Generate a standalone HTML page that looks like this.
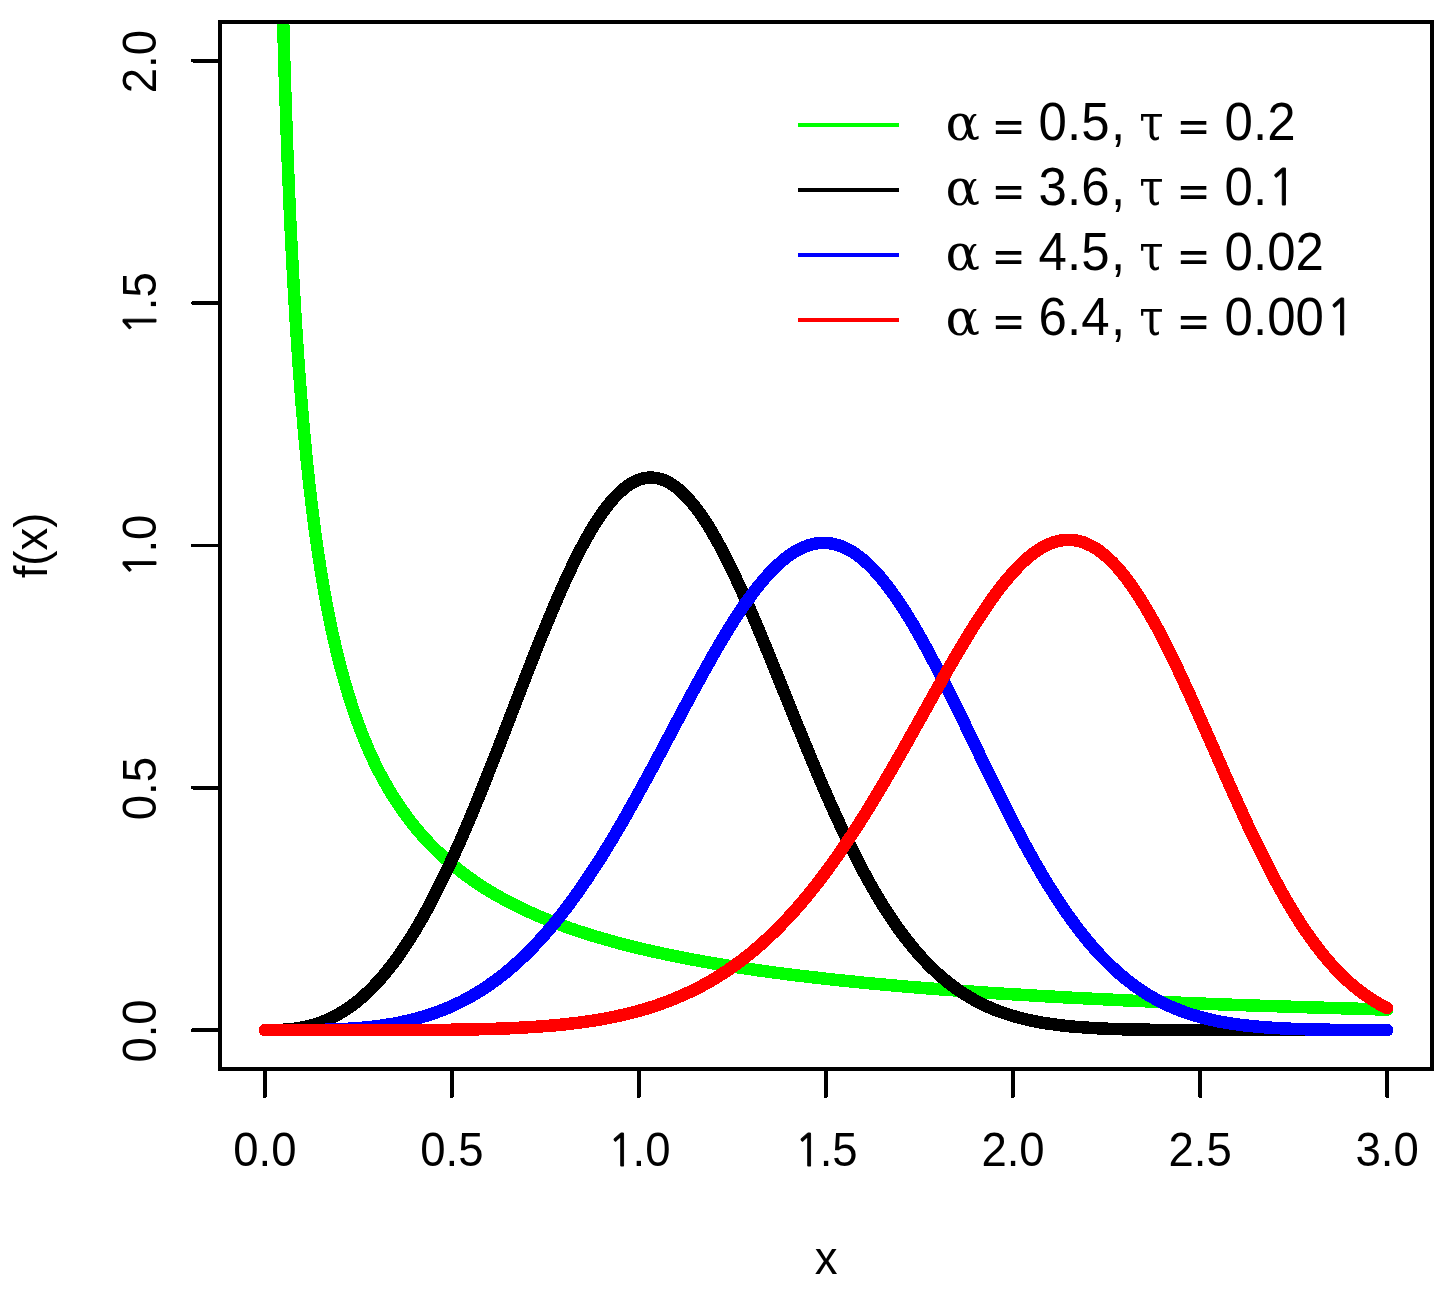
<!DOCTYPE html>
<html><head><meta charset="utf-8"><title>f(x)</title>
<style>
html,body{margin:0;padding:0;background:#fff;}
svg{display:block;}
text{font-family:"Liberation Sans",sans-serif;fill:#000;}
.ax{font-size:45.5px;}
.lg text{font-size:51px;}
.lg text.sy{font-family:"DejaVu Serif","Liberation Serif",serif;}
tspan.one{font-family:"NanumGothic","Liberation Sans",sans-serif;stroke:#000;stroke-width:0.9px;}
.lg text.eq{font-family:"DejaVu Sans","Liberation Sans",sans-serif;font-size:47px;}
</style></head><body>
<svg width="1451" height="1290" viewBox="0 0 1451 1290">
<rect x="0" y="0" width="1451" height="1290" fill="#fff"/>
<defs><clipPath id="c"><rect x="220" y="22" width="1212" height="1047"/></clipPath></defs>

<g clip-path="url(#c)" fill="none" stroke-width="12.5" stroke-linecap="round" stroke-linejoin="round" shape-rendering="crispEdges">
<path d="M278.9 -164.4 L281.7 -32.5 L284.5 69.3 L287.3 150.8 L290.1 218.0 L293.0 274.4 L295.8 322.7 L298.6 364.5 L301.4 401.2 L304.2 433.7 L307.0 462.8 L309.8 488.9 L312.6 512.5 L315.4 534.1 L318.2 553.8 L321.0 571.9 L323.8 588.7 L326.6 604.1 L329.4 618.5 L332.2 632.0 L335.0 644.5 L337.8 656.3 L340.6 667.3 L343.5 677.7 L346.3 687.5 L349.1 696.8 L351.9 705.6 L354.7 713.9 L357.5 721.8 L360.3 729.3 L363.1 736.5 L365.9 743.3 L368.7 749.9 L371.5 756.1 L374.3 762.1 L377.1 767.8 L379.9 773.3 L382.7 778.6 L385.5 783.6 L388.3 788.5 L391.1 793.2 L394.0 797.7 L396.8 802.1 L399.6 806.3 L402.4 810.3 L405.2 814.2 L408.0 818.0 L410.8 821.7 L413.6 825.2 L416.4 828.7 L419.2 832.0 L422.0 835.2 L424.8 838.3 L427.6 841.4 L430.4 844.3 L433.2 847.2 L436.0 849.9 L438.8 852.6 L441.6 855.3 L444.5 857.8 L447.3 860.3 L450.1 862.7 L452.9 865.1 L455.7 867.4 L458.5 869.6 L461.3 871.8 L464.1 873.9 L466.9 876.0 L469.7 878.0 L472.5 880.0 L475.3 882.0 L478.1 883.9 L480.9 885.7 L483.7 887.5 L486.5 889.3 L489.3 891.0 L492.1 892.7 L495.0 894.3 L497.8 895.9 L500.6 897.5 L503.4 899.1 L506.2 900.6 L509.0 902.1 L511.8 903.5 L514.6 905.0 L517.4 906.3 L520.2 907.7 L523.0 909.1 L525.8 910.4 L528.6 911.7 L531.4 912.9 L534.2 914.2 L537.0 915.4 L539.8 916.6 L542.6 917.8 L545.5 918.9 L548.3 920.1 L551.1 921.2 L553.9 922.3 L556.7 923.3 L559.5 924.4 L562.3 925.4 L565.1 926.5 L567.9 927.5 L570.7 928.5 L573.5 929.4 L576.3 930.4 L579.1 931.3 L581.9 932.2 L584.7 933.2 L587.5 934.0 L590.3 934.9 L593.1 935.8 L596.0 936.6 L598.8 937.5 L601.6 938.3 L604.4 939.1 L607.2 939.9 L610.0 940.7 L612.8 941.5 L615.6 942.3 L618.4 943.0 L621.2 943.8 L624.0 944.5 L626.8 945.2 L629.6 945.9 L632.4 946.6 L635.2 947.3 L638.0 948.0 L640.8 948.7 L643.6 949.3 L646.5 950.0 L649.3 950.6 L652.1 951.3 L654.9 951.9 L657.7 952.5 L660.5 953.1 L663.3 953.7 L666.1 954.3 L668.9 954.9 L671.7 955.5 L674.5 956.1 L677.3 956.6 L680.1 957.2 L682.9 957.7 L685.7 958.3 L688.5 958.8 L691.3 959.4 L694.1 959.9 L697.0 960.4 L699.8 960.9 L702.6 961.4 L705.4 961.9 L708.2 962.4 L711.0 962.9 L713.8 963.4 L716.6 963.8 L719.4 964.3 L722.2 964.8 L725.0 965.2 L727.8 965.7 L730.6 966.1 L733.4 966.6 L736.2 967.0 L739.0 967.5 L741.8 967.9 L744.6 968.3 L747.5 968.7 L750.3 969.1 L753.1 969.5 L755.9 970.0 L758.7 970.4 L761.5 970.7 L764.3 971.1 L767.1 971.5 L769.9 971.9 L772.7 972.3 L775.5 972.7 L778.3 973.0 L781.1 973.4 L783.9 973.8 L786.7 974.1 L789.5 974.5 L792.3 974.8 L795.1 975.2 L797.9 975.5 L800.8 975.9 L803.6 976.2 L806.4 976.5 L809.2 976.9 L812.0 977.2 L814.8 977.5 L817.6 977.8 L820.4 978.2 L823.2 978.5 L826.0 978.8 L828.8 979.1 L831.6 979.4 L834.4 979.7 L837.2 980.0 L840.0 980.3 L842.8 980.6 L845.6 980.9 L848.4 981.2 L851.3 981.5 L854.1 981.7 L856.9 982.0 L859.7 982.3 L862.5 982.6 L865.3 982.9 L868.1 983.1 L870.9 983.4 L873.7 983.7 L876.5 983.9 L879.3 984.2 L882.1 984.4 L884.9 984.7 L887.7 984.9 L890.5 985.2 L893.3 985.4 L896.1 985.7 L898.9 985.9 L901.8 986.2 L904.6 986.4 L907.4 986.7 L910.2 986.9 L913.0 987.1 L915.8 987.4 L918.6 987.6 L921.4 987.8 L924.2 988.0 L927.0 988.3 L929.8 988.5 L932.6 988.7 L935.4 988.9 L938.2 989.1 L941.0 989.4 L943.8 989.6 L946.6 989.8 L949.4 990.0 L952.3 990.2 L955.1 990.4 L957.9 990.6 L960.7 990.8 L963.5 991.0 L966.3 991.2 L969.1 991.4 L971.9 991.6 L974.7 991.8 L977.5 992.0 L980.3 992.2 L983.1 992.4 L985.9 992.6 L988.7 992.8 L991.5 992.9 L994.3 993.1 L997.1 993.3 L999.9 993.5 L1002.8 993.7 L1005.6 993.9 L1008.4 994.0 L1011.2 994.2 L1014.0 994.4 L1016.8 994.6 L1019.6 994.7 L1022.4 994.9 L1025.2 995.1 L1028.0 995.2 L1030.8 995.4 L1033.6 995.6 L1036.4 995.7 L1039.2 995.9 L1042.0 996.1 L1044.8 996.2 L1047.6 996.4 L1050.4 996.5 L1053.3 996.7 L1056.1 996.8 L1058.9 997.0 L1061.7 997.2 L1064.5 997.3 L1067.3 997.5 L1070.1 997.6 L1072.9 997.8 L1075.7 997.9 L1078.5 998.1 L1081.3 998.2 L1084.1 998.3 L1086.9 998.5 L1089.7 998.6 L1092.5 998.8 L1095.3 998.9 L1098.1 999.1 L1100.9 999.2 L1103.8 999.3 L1106.6 999.5 L1109.4 999.6 L1112.2 999.7 L1115.0 999.9 L1117.8 1000.0 L1120.6 1000.1 L1123.4 1000.3 L1126.2 1000.4 L1129.0 1000.5 L1131.8 1000.7 L1134.6 1000.8 L1137.4 1000.9 L1140.2 1001.0 L1143.0 1001.2 L1145.8 1001.3 L1148.6 1001.4 L1151.4 1001.5 L1154.3 1001.7 L1157.1 1001.8 L1159.9 1001.9 L1162.7 1002.0 L1165.5 1002.1 L1168.3 1002.3 L1171.1 1002.4 L1173.9 1002.5 L1176.7 1002.6 L1179.5 1002.7 L1182.3 1002.8 L1185.1 1003.0 L1187.9 1003.1 L1190.7 1003.2 L1193.5 1003.3 L1196.3 1003.4 L1199.1 1003.5 L1201.9 1003.6 L1204.8 1003.7 L1207.6 1003.8 L1210.4 1003.9 L1213.2 1004.1 L1216.0 1004.2 L1218.8 1004.3 L1221.6 1004.4 L1224.4 1004.5 L1227.2 1004.6 L1230.0 1004.7 L1232.8 1004.8 L1235.6 1004.9 L1238.4 1005.0 L1241.2 1005.1 L1244.0 1005.2 L1246.8 1005.3 L1249.6 1005.4 L1252.4 1005.5 L1255.3 1005.6 L1258.1 1005.7 L1260.9 1005.8 L1263.7 1005.9 L1266.5 1006.0 L1269.3 1006.1 L1272.1 1006.1 L1274.9 1006.2 L1277.7 1006.3 L1280.5 1006.4 L1283.3 1006.5 L1286.1 1006.6 L1288.9 1006.7 L1291.7 1006.8 L1294.5 1006.9 L1297.3 1007.0 L1300.1 1007.1 L1302.9 1007.1 L1305.7 1007.2 L1308.6 1007.3 L1311.4 1007.4 L1314.2 1007.5 L1317.0 1007.6 L1319.8 1007.7 L1322.6 1007.7 L1325.4 1007.8 L1328.2 1007.9 L1331.0 1008.0 L1333.8 1008.1 L1336.6 1008.2 L1339.4 1008.2 L1342.2 1008.3 L1345.0 1008.4 L1347.8 1008.5 L1350.6 1008.6 L1353.4 1008.6 L1356.2 1008.7 L1359.1 1008.8 L1361.9 1008.9 L1364.7 1009.0 L1367.5 1009.0 L1370.3 1009.1 L1373.1 1009.2 L1375.9 1009.3 L1378.7 1009.3 L1381.5 1009.4 L1384.3 1009.5 L1387.1 1009.6" stroke="#00ff00"/>
<path d="M264.9 1030.2 L267.7 1030.2 L270.5 1030.2 L273.3 1030.1 L276.1 1030.1 L278.9 1030.0 L281.7 1029.9 L284.5 1029.7 L287.3 1029.5 L290.1 1029.2 L293.0 1028.9 L295.8 1028.5 L298.6 1028.1 L301.4 1027.6 L304.2 1027.1 L307.0 1026.4 L309.8 1025.8 L312.6 1025.0 L315.4 1024.2 L318.2 1023.3 L321.0 1022.3 L323.8 1021.2 L326.6 1020.1 L329.4 1018.8 L332.2 1017.5 L335.0 1016.1 L337.8 1014.6 L340.6 1012.9 L343.5 1011.2 L346.3 1009.4 L349.1 1007.5 L351.9 1005.5 L354.7 1003.4 L357.5 1001.2 L360.3 998.9 L363.1 996.4 L365.9 993.9 L368.7 991.2 L371.5 988.5 L374.3 985.6 L377.1 982.6 L379.9 979.5 L382.7 976.3 L385.5 972.9 L388.3 969.5 L391.1 965.9 L394.0 962.2 L396.8 958.4 L399.6 954.4 L402.4 950.4 L405.2 946.2 L408.0 941.9 L410.8 937.5 L413.6 932.9 L416.4 928.3 L419.2 923.5 L422.0 918.6 L424.8 913.6 L427.6 908.5 L430.4 903.2 L433.2 897.9 L436.0 892.4 L438.8 886.9 L441.6 881.2 L444.5 875.4 L447.3 869.5 L450.1 863.5 L452.9 857.4 L455.7 851.2 L458.5 845.0 L461.3 838.6 L464.1 832.1 L466.9 825.6 L469.7 819.0 L472.5 812.3 L475.3 805.5 L478.1 798.7 L480.9 791.8 L483.7 784.8 L486.5 777.8 L489.3 770.7 L492.1 763.6 L495.0 756.4 L497.8 749.2 L500.6 742.0 L503.4 734.8 L506.2 727.5 L509.0 720.2 L511.8 712.9 L514.6 705.6 L517.4 698.3 L520.2 691.0 L523.0 683.8 L525.8 676.5 L528.6 669.3 L531.4 662.1 L534.2 655.0 L537.0 647.9 L539.8 640.9 L542.6 633.9 L545.5 627.0 L548.3 620.2 L551.1 613.4 L553.9 606.8 L556.7 600.2 L559.5 593.8 L562.3 587.4 L565.1 581.2 L567.9 575.1 L570.7 569.2 L573.5 563.3 L576.3 557.6 L579.1 552.1 L581.9 546.7 L584.7 541.5 L587.5 536.5 L590.3 531.6 L593.1 526.9 L596.0 522.4 L598.8 518.1 L601.6 513.9 L604.4 510.0 L607.2 506.3 L610.0 502.8 L612.8 499.5 L615.6 496.4 L618.4 493.6 L621.2 491.0 L624.0 488.6 L626.8 486.4 L629.6 484.4 L632.4 482.7 L635.2 481.3 L638.0 480.1 L640.8 479.1 L643.6 478.3 L646.5 477.8 L649.3 477.6 L652.1 477.6 L654.9 477.8 L657.7 478.3 L660.5 479.0 L663.3 479.9 L666.1 481.1 L668.9 482.5 L671.7 484.2 L674.5 486.1 L677.3 488.2 L680.1 490.6 L682.9 493.2 L685.7 496.0 L688.5 499.0 L691.3 502.2 L694.1 505.6 L697.0 509.3 L699.8 513.1 L702.6 517.2 L705.4 521.4 L708.2 525.8 L711.0 530.4 L713.8 535.2 L716.6 540.1 L719.4 545.2 L722.2 550.4 L725.0 555.8 L727.8 561.4 L730.6 567.0 L733.4 572.8 L736.2 578.8 L739.0 584.8 L741.8 591.0 L744.6 597.2 L747.5 603.6 L750.3 610.0 L753.1 616.5 L755.9 623.1 L758.7 629.8 L761.5 636.5 L764.3 643.3 L767.1 650.1 L769.9 657.0 L772.7 663.9 L775.5 670.8 L778.3 677.7 L781.1 684.7 L783.9 691.7 L786.7 698.6 L789.5 705.6 L792.3 712.6 L795.1 719.5 L797.9 726.4 L800.8 733.3 L803.6 740.2 L806.4 747.0 L809.2 753.8 L812.0 760.6 L814.8 767.3 L817.6 773.9 L820.4 780.5 L823.2 787.0 L826.0 793.5 L828.8 799.8 L831.6 806.1 L834.4 812.4 L837.2 818.5 L840.0 824.6 L842.8 830.6 L845.6 836.4 L848.4 842.2 L851.3 847.9 L854.1 853.5 L856.9 859.1 L859.7 864.5 L862.5 869.8 L865.3 875.0 L868.1 880.1 L870.9 885.1 L873.7 890.0 L876.5 894.8 L879.3 899.5 L882.1 904.1 L884.9 908.5 L887.7 912.9 L890.5 917.2 L893.3 921.3 L896.1 925.4 L898.9 929.3 L901.8 933.2 L904.6 936.9 L907.4 940.5 L910.2 944.1 L913.0 947.5 L915.8 950.8 L918.6 954.1 L921.4 957.2 L924.2 960.2 L927.0 963.2 L929.8 966.0 L932.6 968.8 L935.4 971.4 L938.2 974.0 L941.0 976.5 L943.8 978.9 L946.6 981.2 L949.4 983.5 L952.3 985.6 L955.1 987.7 L957.9 989.7 L960.7 991.6 L963.5 993.5 L966.3 995.2 L969.1 996.9 L971.9 998.6 L974.7 1000.2 L977.5 1001.7 L980.3 1003.1 L983.1 1004.5 L985.9 1005.8 L988.7 1007.1 L991.5 1008.3 L994.3 1009.5 L997.1 1010.6 L999.9 1011.6 L1002.8 1012.6 L1005.6 1013.6 L1008.4 1014.5 L1011.2 1015.4 L1014.0 1016.2 L1016.8 1017.0 L1019.6 1017.8 L1022.4 1018.5 L1025.2 1019.2 L1028.0 1019.8 L1030.8 1020.5 L1033.6 1021.0 L1036.4 1021.6 L1039.2 1022.1 L1042.0 1022.6 L1044.8 1023.1 L1047.6 1023.5 L1050.4 1023.9 L1053.3 1024.3 L1056.1 1024.7 L1058.9 1025.1 L1061.7 1025.4 L1064.5 1025.7 L1067.3 1026.0 L1070.1 1026.3 L1072.9 1026.6 L1075.7 1026.8 L1078.5 1027.0 L1081.3 1027.2 L1084.1 1027.5 L1086.9 1027.6 L1089.7 1027.8 L1092.5 1028.0 L1095.3 1028.1 L1098.1 1028.3 L1100.9 1028.4 L1103.8 1028.6 L1106.6 1028.7 L1109.4 1028.8 L1112.2 1028.9 L1115.0 1029.0 L1117.8 1029.1 L1120.6 1029.2 L1123.4 1029.3 L1126.2 1029.3 L1129.0 1029.4 L1131.8 1029.5 L1134.6 1029.5 L1137.4 1029.6 L1140.2 1029.6 L1143.0 1029.7 L1145.8 1029.7 L1148.6 1029.7 L1151.4 1029.8 L1154.3 1029.8 L1157.1 1029.9 L1159.9 1029.9 L1162.7 1029.9 L1165.5 1029.9 L1168.3 1030.0 L1171.1 1030.0 L1173.9 1030.0 L1176.7 1030.0 L1179.5 1030.0 L1182.3 1030.0 L1185.1 1030.1 L1187.9 1030.1 L1190.7 1030.1 L1193.5 1030.1 L1196.3 1030.1 L1199.1 1030.1 L1201.9 1030.1 L1204.8 1030.1 L1207.6 1030.1 L1210.4 1030.1 L1213.2 1030.1 L1216.0 1030.2 L1218.8 1030.2 L1221.6 1030.2 L1224.4 1030.2 L1227.2 1030.2 L1230.0 1030.2 L1232.8 1030.2 L1235.6 1030.2 L1238.4 1030.2 L1241.2 1030.2 L1244.0 1030.2 L1246.8 1030.2 L1249.6 1030.2 L1252.4 1030.2 L1255.3 1030.2 L1258.1 1030.2 L1260.9 1030.2 L1263.7 1030.2 L1266.5 1030.2 L1269.3 1030.2 L1272.1 1030.2 L1274.9 1030.2 L1277.7 1030.2 L1280.5 1030.2 L1283.3 1030.2 L1286.1 1030.2 L1288.9 1030.2 L1291.7 1030.2 L1294.5 1030.2 L1297.3 1030.2 L1300.1 1030.2 L1302.9 1030.2 L1305.7 1030.2 L1308.6 1030.2 L1311.4 1030.2 L1314.2 1030.2 L1317.0 1030.2 L1319.8 1030.2 L1322.6 1030.2 L1325.4 1030.2 L1328.2 1030.2 L1331.0 1030.2 L1333.8 1030.2 L1336.6 1030.2 L1339.4 1030.2 L1342.2 1030.2 L1345.0 1030.2 L1347.8 1030.2 L1350.6 1030.2 L1353.4 1030.2 L1356.2 1030.2 L1359.1 1030.2 L1361.9 1030.2 L1364.7 1030.2 L1367.5 1030.2 L1370.3 1030.2 L1373.1 1030.2 L1375.9 1030.2 L1378.7 1030.2 L1381.5 1030.2 L1384.3 1030.2 L1387.1 1030.2" stroke="#000000"/>
<path d="M264.9 1030.2 L267.7 1030.2 L270.5 1030.2 L273.3 1030.2 L276.1 1030.2 L278.9 1030.2 L281.7 1030.2 L284.5 1030.2 L287.3 1030.2 L290.1 1030.2 L293.0 1030.2 L295.8 1030.2 L298.6 1030.1 L301.4 1030.1 L304.2 1030.1 L307.0 1030.1 L309.8 1030.0 L312.6 1030.0 L315.4 1030.0 L318.2 1029.9 L321.0 1029.8 L323.8 1029.8 L326.6 1029.7 L329.4 1029.6 L332.2 1029.5 L335.0 1029.4 L337.8 1029.3 L340.6 1029.2 L343.5 1029.0 L346.3 1028.9 L349.1 1028.7 L351.9 1028.5 L354.7 1028.3 L357.5 1028.1 L360.3 1027.9 L363.1 1027.7 L365.9 1027.4 L368.7 1027.1 L371.5 1026.8 L374.3 1026.5 L377.1 1026.1 L379.9 1025.8 L382.7 1025.4 L385.5 1025.0 L388.3 1024.5 L391.1 1024.1 L394.0 1023.6 L396.8 1023.1 L399.6 1022.5 L402.4 1021.9 L405.2 1021.3 L408.0 1020.7 L410.8 1020.0 L413.6 1019.3 L416.4 1018.6 L419.2 1017.8 L422.0 1017.0 L424.8 1016.2 L427.6 1015.3 L430.4 1014.4 L433.2 1013.5 L436.0 1012.5 L438.8 1011.4 L441.6 1010.4 L444.5 1009.3 L447.3 1008.1 L450.1 1006.9 L452.9 1005.6 L455.7 1004.3 L458.5 1003.0 L461.3 1001.6 L464.1 1000.2 L466.9 998.7 L469.7 997.1 L472.5 995.6 L475.3 993.9 L478.1 992.2 L480.9 990.5 L483.7 988.7 L486.5 986.8 L489.3 984.9 L492.1 982.9 L495.0 980.9 L497.8 978.8 L500.6 976.6 L503.4 974.4 L506.2 972.2 L509.0 969.8 L511.8 967.4 L514.6 965.0 L517.4 962.5 L520.2 959.9 L523.0 957.2 L525.8 954.5 L528.6 951.7 L531.4 948.9 L534.2 946.0 L537.0 943.0 L539.8 940.0 L542.6 936.9 L545.5 933.7 L548.3 930.5 L551.1 927.2 L553.9 923.8 L556.7 920.4 L559.5 916.9 L562.3 913.3 L565.1 909.7 L567.9 906.0 L570.7 902.2 L573.5 898.4 L576.3 894.5 L579.1 890.5 L581.9 886.5 L584.7 882.4 L587.5 878.3 L590.3 874.0 L593.1 869.8 L596.0 865.4 L598.8 861.1 L601.6 856.6 L604.4 852.1 L607.2 847.5 L610.0 842.9 L612.8 838.3 L615.6 833.5 L618.4 828.8 L621.2 824.0 L624.0 819.1 L626.8 814.2 L629.6 809.2 L632.4 804.3 L635.2 799.2 L638.0 794.2 L640.8 789.1 L643.6 783.9 L646.5 778.8 L649.3 773.6 L652.1 768.4 L654.9 763.2 L657.7 757.9 L660.5 752.7 L663.3 747.4 L666.1 742.1 L668.9 736.8 L671.7 731.5 L674.5 726.2 L677.3 720.9 L680.1 715.7 L682.9 710.4 L685.7 705.1 L688.5 699.9 L691.3 694.7 L694.1 689.5 L697.0 684.3 L699.8 679.2 L702.6 674.1 L705.4 669.0 L708.2 664.0 L711.0 659.0 L713.8 654.1 L716.6 649.2 L719.4 644.4 L722.2 639.7 L725.0 635.0 L727.8 630.4 L730.6 625.9 L733.4 621.4 L736.2 617.1 L739.0 612.8 L741.8 608.6 L744.6 604.5 L747.5 600.5 L750.3 596.7 L753.1 592.9 L755.9 589.2 L758.7 585.7 L761.5 582.3 L764.3 578.9 L767.1 575.8 L769.9 572.7 L772.7 569.8 L775.5 567.0 L778.3 564.4 L781.1 561.9 L783.9 559.5 L786.7 557.3 L789.5 555.2 L792.3 553.3 L795.1 551.6 L797.9 550.0 L800.8 548.5 L803.6 547.2 L806.4 546.1 L809.2 545.2 L812.0 544.4 L814.8 543.8 L817.6 543.3 L820.4 543.0 L823.2 542.9 L826.0 543.0 L828.8 543.2 L831.6 543.6 L834.4 544.2 L837.2 544.9 L840.0 545.8 L842.8 546.9 L845.6 548.2 L848.4 549.6 L851.3 551.2 L854.1 553.0 L856.9 554.9 L859.7 557.0 L862.5 559.2 L865.3 561.6 L868.1 564.2 L870.9 566.9 L873.7 569.8 L876.5 572.8 L879.3 576.0 L882.1 579.3 L884.9 582.8 L887.7 586.4 L890.5 590.1 L893.3 594.0 L896.1 598.0 L898.9 602.1 L901.8 606.4 L904.6 610.7 L907.4 615.2 L910.2 619.8 L913.0 624.4 L915.8 629.2 L918.6 634.1 L921.4 639.1 L924.2 644.1 L927.0 649.3 L929.8 654.5 L932.6 659.8 L935.4 665.1 L938.2 670.5 L941.0 676.0 L943.8 681.5 L946.6 687.1 L949.4 692.7 L952.3 698.4 L955.1 704.1 L957.9 709.8 L960.7 715.6 L963.5 721.3 L966.3 727.1 L969.1 732.9 L971.9 738.7 L974.7 744.5 L977.5 750.3 L980.3 756.1 L983.1 761.9 L985.9 767.7 L988.7 773.4 L991.5 779.2 L994.3 784.9 L997.1 790.5 L999.9 796.2 L1002.8 801.8 L1005.6 807.3 L1008.4 812.9 L1011.2 818.3 L1014.0 823.7 L1016.8 829.1 L1019.6 834.4 L1022.4 839.7 L1025.2 844.9 L1028.0 850.0 L1030.8 855.0 L1033.6 860.0 L1036.4 865.0 L1039.2 869.8 L1042.0 874.6 L1044.8 879.3 L1047.6 883.9 L1050.4 888.4 L1053.3 892.9 L1056.1 897.3 L1058.9 901.6 L1061.7 905.8 L1064.5 909.9 L1067.3 914.0 L1070.1 917.9 L1072.9 921.8 L1075.7 925.6 L1078.5 929.3 L1081.3 932.9 L1084.1 936.4 L1086.9 939.9 L1089.7 943.2 L1092.5 946.5 L1095.3 949.7 L1098.1 952.8 L1100.9 955.8 L1103.8 958.8 L1106.6 961.6 L1109.4 964.4 L1112.2 967.1 L1115.0 969.7 L1117.8 972.2 L1120.6 974.7 L1123.4 977.0 L1126.2 979.3 L1129.0 981.5 L1131.8 983.7 L1134.6 985.8 L1137.4 987.8 L1140.2 989.7 L1143.0 991.6 L1145.8 993.4 L1148.6 995.1 L1151.4 996.8 L1154.3 998.4 L1157.1 999.9 L1159.9 1001.4 L1162.7 1002.8 L1165.5 1004.2 L1168.3 1005.5 L1171.1 1006.8 L1173.9 1008.0 L1176.7 1009.1 L1179.5 1010.3 L1182.3 1011.3 L1185.1 1012.3 L1187.9 1013.3 L1190.7 1014.2 L1193.5 1015.1 L1196.3 1015.9 L1199.1 1016.7 L1201.9 1017.5 L1204.8 1018.2 L1207.6 1018.9 L1210.4 1019.6 L1213.2 1020.2 L1216.0 1020.8 L1218.8 1021.4 L1221.6 1021.9 L1224.4 1022.4 L1227.2 1022.9 L1230.0 1023.4 L1232.8 1023.8 L1235.6 1024.2 L1238.4 1024.6 L1241.2 1024.9 L1244.0 1025.3 L1246.8 1025.6 L1249.6 1025.9 L1252.4 1026.2 L1255.3 1026.5 L1258.1 1026.7 L1260.9 1027.0 L1263.7 1027.2 L1266.5 1027.4 L1269.3 1027.6 L1272.1 1027.8 L1274.9 1028.0 L1277.7 1028.1 L1280.5 1028.3 L1283.3 1028.4 L1286.1 1028.5 L1288.9 1028.7 L1291.7 1028.8 L1294.5 1028.9 L1297.3 1029.0 L1300.1 1029.1 L1302.9 1029.2 L1305.7 1029.3 L1308.6 1029.3 L1311.4 1029.4 L1314.2 1029.5 L1317.0 1029.5 L1319.8 1029.6 L1322.6 1029.6 L1325.4 1029.7 L1328.2 1029.7 L1331.0 1029.8 L1333.8 1029.8 L1336.6 1029.8 L1339.4 1029.9 L1342.2 1029.9 L1345.0 1029.9 L1347.8 1029.9 L1350.6 1030.0 L1353.4 1030.0 L1356.2 1030.0 L1359.1 1030.0 L1361.9 1030.0 L1364.7 1030.1 L1367.5 1030.1 L1370.3 1030.1 L1373.1 1030.1 L1375.9 1030.1 L1378.7 1030.1 L1381.5 1030.1 L1384.3 1030.1 L1387.1 1030.1" stroke="#0000ff"/>
<path d="M264.9 1030.2 L267.7 1030.2 L270.5 1030.2 L273.3 1030.2 L276.1 1030.2 L278.9 1030.2 L281.7 1030.2 L284.5 1030.2 L287.3 1030.2 L290.1 1030.2 L293.0 1030.2 L295.8 1030.2 L298.6 1030.2 L301.4 1030.2 L304.2 1030.2 L307.0 1030.2 L309.8 1030.2 L312.6 1030.2 L315.4 1030.2 L318.2 1030.2 L321.0 1030.2 L323.8 1030.2 L326.6 1030.2 L329.4 1030.2 L332.2 1030.2 L335.0 1030.2 L337.8 1030.2 L340.6 1030.2 L343.5 1030.2 L346.3 1030.2 L349.1 1030.2 L351.9 1030.2 L354.7 1030.2 L357.5 1030.2 L360.3 1030.2 L363.1 1030.2 L365.9 1030.2 L368.7 1030.2 L371.5 1030.2 L374.3 1030.2 L377.1 1030.2 L379.9 1030.2 L382.7 1030.2 L385.5 1030.2 L388.3 1030.2 L391.1 1030.1 L394.0 1030.1 L396.8 1030.1 L399.6 1030.1 L402.4 1030.1 L405.2 1030.1 L408.0 1030.1 L410.8 1030.1 L413.6 1030.1 L416.4 1030.1 L419.2 1030.0 L422.0 1030.0 L424.8 1030.0 L427.6 1030.0 L430.4 1030.0 L433.2 1029.9 L436.0 1029.9 L438.8 1029.9 L441.6 1029.9 L444.5 1029.8 L447.3 1029.8 L450.1 1029.8 L452.9 1029.7 L455.7 1029.7 L458.5 1029.6 L461.3 1029.6 L464.1 1029.5 L466.9 1029.5 L469.7 1029.4 L472.5 1029.4 L475.3 1029.3 L478.1 1029.3 L480.9 1029.2 L483.7 1029.1 L486.5 1029.0 L489.3 1029.0 L492.1 1028.9 L495.0 1028.8 L497.8 1028.7 L500.6 1028.6 L503.4 1028.5 L506.2 1028.4 L509.0 1028.3 L511.8 1028.1 L514.6 1028.0 L517.4 1027.9 L520.2 1027.7 L523.0 1027.6 L525.8 1027.4 L528.6 1027.2 L531.4 1027.1 L534.2 1026.9 L537.0 1026.7 L539.8 1026.5 L542.6 1026.3 L545.5 1026.1 L548.3 1025.8 L551.1 1025.6 L553.9 1025.4 L556.7 1025.1 L559.5 1024.8 L562.3 1024.5 L565.1 1024.3 L567.9 1023.9 L570.7 1023.6 L573.5 1023.3 L576.3 1023.0 L579.1 1022.6 L581.9 1022.2 L584.7 1021.8 L587.5 1021.4 L590.3 1021.0 L593.1 1020.6 L596.0 1020.1 L598.8 1019.7 L601.6 1019.2 L604.4 1018.7 L607.2 1018.2 L610.0 1017.6 L612.8 1017.1 L615.6 1016.5 L618.4 1015.9 L621.2 1015.3 L624.0 1014.6 L626.8 1013.9 L629.6 1013.3 L632.4 1012.5 L635.2 1011.8 L638.0 1011.1 L640.8 1010.3 L643.6 1009.5 L646.5 1008.6 L649.3 1007.8 L652.1 1006.9 L654.9 1006.0 L657.7 1005.0 L660.5 1004.0 L663.3 1003.0 L666.1 1002.0 L668.9 1000.9 L671.7 999.8 L674.5 998.7 L677.3 997.5 L680.1 996.3 L682.9 995.1 L685.7 993.8 L688.5 992.5 L691.3 991.2 L694.1 989.8 L697.0 988.4 L699.8 987.0 L702.6 985.5 L705.4 983.9 L708.2 982.4 L711.0 980.8 L713.8 979.1 L716.6 977.4 L719.4 975.7 L722.2 973.9 L725.0 972.0 L727.8 970.2 L730.6 968.2 L733.4 966.3 L736.2 964.3 L739.0 962.2 L741.8 960.1 L744.6 957.9 L747.5 955.7 L750.3 953.5 L753.1 951.2 L755.9 948.8 L758.7 946.4 L761.5 943.9 L764.3 941.4 L767.1 938.8 L769.9 936.2 L772.7 933.5 L775.5 930.8 L778.3 928.0 L781.1 925.1 L783.9 922.2 L786.7 919.3 L789.5 916.3 L792.3 913.2 L795.1 910.1 L797.9 906.9 L800.8 903.6 L803.6 900.3 L806.4 897.0 L809.2 893.6 L812.0 890.1 L814.8 886.6 L817.6 883.0 L820.4 879.3 L823.2 875.6 L826.0 871.9 L828.8 868.1 L831.6 864.2 L834.4 860.3 L837.2 856.3 L840.0 852.3 L842.8 848.2 L845.6 844.0 L848.4 839.8 L851.3 835.6 L854.1 831.3 L856.9 827.0 L859.7 822.6 L862.5 818.1 L865.3 813.7 L868.1 809.1 L870.9 804.6 L873.7 799.9 L876.5 795.3 L879.3 790.6 L882.1 785.9 L884.9 781.1 L887.7 776.3 L890.5 771.5 L893.3 766.6 L896.1 761.7 L898.9 756.8 L901.8 751.9 L904.6 746.9 L907.4 741.9 L910.2 736.9 L913.0 731.9 L915.8 726.9 L918.6 721.9 L921.4 716.9 L924.2 711.8 L927.0 706.8 L929.8 701.8 L932.6 696.8 L935.4 691.7 L938.2 686.8 L941.0 681.8 L943.8 676.8 L946.6 671.9 L949.4 667.0 L952.3 662.1 L955.1 657.3 L957.9 652.5 L960.7 647.8 L963.5 643.1 L966.3 638.4 L969.1 633.8 L971.9 629.3 L974.7 624.8 L977.5 620.4 L980.3 616.1 L983.1 611.9 L985.9 607.7 L988.7 603.6 L991.5 599.6 L994.3 595.7 L997.1 591.9 L999.9 588.2 L1002.8 584.6 L1005.6 581.1 L1008.4 577.7 L1011.2 574.5 L1014.0 571.4 L1016.8 568.4 L1019.6 565.5 L1022.4 562.7 L1025.2 560.1 L1028.0 557.7 L1030.8 555.4 L1033.6 553.2 L1036.4 551.2 L1039.2 549.3 L1042.0 547.6 L1044.8 546.1 L1047.6 544.7 L1050.4 543.5 L1053.3 542.4 L1056.1 541.6 L1058.9 540.9 L1061.7 540.4 L1064.5 540.0 L1067.3 539.8 L1070.1 539.8 L1072.9 540.0 L1075.7 540.4 L1078.5 541.0 L1081.3 541.7 L1084.1 542.6 L1086.9 543.8 L1089.7 545.1 L1092.5 546.5 L1095.3 548.2 L1098.1 550.0 L1100.9 552.1 L1103.8 554.3 L1106.6 556.7 L1109.4 559.3 L1112.2 562.0 L1115.0 564.9 L1117.8 568.0 L1120.6 571.3 L1123.4 574.7 L1126.2 578.3 L1129.0 582.1 L1131.8 586.0 L1134.6 590.0 L1137.4 594.3 L1140.2 598.6 L1143.0 603.1 L1145.8 607.8 L1148.6 612.6 L1151.4 617.5 L1154.3 622.5 L1157.1 627.7 L1159.9 632.9 L1162.7 638.3 L1165.5 643.8 L1168.3 649.4 L1171.1 655.1 L1173.9 660.9 L1176.7 666.7 L1179.5 672.6 L1182.3 678.6 L1185.1 684.7 L1187.9 690.8 L1190.7 697.0 L1193.5 703.2 L1196.3 709.5 L1199.1 715.8 L1201.9 722.1 L1204.8 728.5 L1207.6 734.9 L1210.4 741.2 L1213.2 747.6 L1216.0 754.0 L1218.8 760.4 L1221.6 766.8 L1224.4 773.2 L1227.2 779.5 L1230.0 785.8 L1232.8 792.1 L1235.6 798.3 L1238.4 804.5 L1241.2 810.7 L1244.0 816.8 L1246.8 822.9 L1249.6 828.9 L1252.4 834.8 L1255.3 840.7 L1258.1 846.4 L1260.9 852.2 L1263.7 857.8 L1266.5 863.3 L1269.3 868.8 L1272.1 874.2 L1274.9 879.5 L1277.7 884.7 L1280.5 889.8 L1283.3 894.8 L1286.1 899.7 L1288.9 904.5 L1291.7 909.2 L1294.5 913.8 L1297.3 918.3 L1300.1 922.7 L1302.9 927.0 L1305.7 931.2 L1308.6 935.2 L1311.4 939.2 L1314.2 943.1 L1317.0 946.8 L1319.8 950.4 L1322.6 954.0 L1325.4 957.4 L1328.2 960.7 L1331.0 963.9 L1333.8 967.0 L1336.6 970.0 L1339.4 972.9 L1342.2 975.7 L1345.0 978.4 L1347.8 981.0 L1350.6 983.5 L1353.4 985.9 L1356.2 988.2 L1359.1 990.5 L1361.9 992.6 L1364.7 994.7 L1367.5 996.6 L1370.3 998.5 L1373.1 1000.3 L1375.9 1002.0 L1378.7 1003.6 L1381.5 1005.2 L1384.3 1006.7 L1387.1 1008.1" stroke="#ff0000"/>
</g>
<g fill="none" stroke="#000" shape-rendering="crispEdges">
<rect x="220" y="22" width="1212" height="1047" stroke-width="4"/>
<line x1="264.9" y1="1069" x2="264.9" y2="1096.6" stroke-width="3.6" stroke-linecap="round"/>
<line x1="451.9" y1="1069" x2="451.9" y2="1096.6" stroke-width="3.6" stroke-linecap="round"/>
<line x1="639.0" y1="1069" x2="639.0" y2="1096.6" stroke-width="3.6" stroke-linecap="round"/>
<line x1="826.0" y1="1069" x2="826.0" y2="1096.6" stroke-width="3.6" stroke-linecap="round"/>
<line x1="1013.0" y1="1069" x2="1013.0" y2="1096.6" stroke-width="3.6" stroke-linecap="round"/>
<line x1="1200.1" y1="1069" x2="1200.1" y2="1096.6" stroke-width="3.6" stroke-linecap="round"/>
<line x1="1387.1" y1="1069" x2="1387.1" y2="1096.6" stroke-width="3.6" stroke-linecap="round"/>
<line x1="220" y1="1030.2" x2="192.8" y2="1030.2" stroke-width="3.6" stroke-linecap="round"/>
<line x1="220" y1="787.8" x2="192.8" y2="787.8" stroke-width="3.6" stroke-linecap="round"/>
<line x1="220" y1="545.5" x2="192.8" y2="545.5" stroke-width="3.6" stroke-linecap="round"/>
<line x1="220" y1="303.1" x2="192.8" y2="303.1" stroke-width="3.6" stroke-linecap="round"/>
<line x1="220" y1="60.8" x2="192.8" y2="60.8" stroke-width="3.6" stroke-linecap="round"/>
</g>
<text class="ax" transform="translate(233.3 1166.2) scale(1 1.050)">0.0</text>
<text class="ax" transform="translate(420.3 1166.2) scale(1 1.050)">0.5</text>
<text class="ax" transform="translate(607.3 1166.2) scale(1 1.050)"><tspan class="one" font-size="42.32" dx="0.68">1</tspan><tspan dx="-1.03">.0</tspan></text>
<text class="ax" transform="translate(794.4 1166.2) scale(1 1.050)"><tspan class="one" font-size="42.32" dx="0.68">1</tspan><tspan dx="-1.03">.5</tspan></text>
<text class="ax" transform="translate(981.4 1166.2) scale(1 1.050)">2.0</text>
<text class="ax" transform="translate(1168.5 1166.2) scale(1 1.050)">2.5</text>
<text class="ax" transform="translate(1355.5 1166.2) scale(1 1.050)">3.0</text>
<text class="ax" transform="translate(155.5 1062.6) rotate(-90) scale(1 1.050)">0.0</text>
<text class="ax" transform="translate(155.5 820.3) rotate(-90) scale(1 1.050)">0.5</text>
<text class="ax" transform="translate(155.5 577.9) rotate(-90) scale(1 1.050)"><tspan class="one" font-size="42.32" dx="0.68">1</tspan><tspan dx="-1.03">.0</tspan></text>
<text class="ax" transform="translate(155.5 335.5) rotate(-90) scale(1 1.050)"><tspan class="one" font-size="42.32" dx="0.68">1</tspan><tspan dx="-1.03">.5</tspan></text>
<text class="ax" transform="translate(155.5 93.2) rotate(-90) scale(1 1.050)">2.0</text>
<text class="ax" x="826" y="1274" text-anchor="middle">x</text>
<text class="ax" transform="translate(47.2 545.5) rotate(-90)" text-anchor="middle">f(x)</text>
<g stroke-width="4" stroke-linecap="round" shape-rendering="crispEdges">
<line x1="799.5" y1="125.0" x2="897.5" y2="125.0" stroke="#00ff00"/>
<line x1="799.5" y1="190.1" x2="897.5" y2="190.1" stroke="#000000"/>
<line x1="799.5" y1="255.1" x2="897.5" y2="255.1" stroke="#0000ff"/>
<line x1="799.5" y1="320.1" x2="897.5" y2="320.1" stroke="#ff0000"/>
</g>
<g class="lg">
<text class="sy" x="945.5" y="140.2">α</text>
<text class="eq" transform="translate(991.5 141.8) scale(0.868 1)">=</text>
<text transform="translate(1038.6 140.2) scale(1 1.047)">0.5<tspan dx="1.50">,</tspan></text>
<text class="sy" transform="translate(1139.2 140.2) scale(0.865 1)">τ</text>
<text class="eq" transform="translate(1176.4 141.8) scale(0.868 1)">=</text>
<text transform="translate(1224.6 140.2) scale(1 1.047)">0.2</text>
</g>
<g class="lg">
<text class="sy" x="945.5" y="205.3">α</text>
<text class="eq" transform="translate(991.5 206.9) scale(0.868 1)">=</text>
<text transform="translate(1038.6 205.3) scale(1 1.047)">3.6<tspan dx="1.50">,</tspan></text>
<text class="sy" transform="translate(1139.2 205.3) scale(0.865 1)">τ</text>
<text class="eq" transform="translate(1176.4 206.9) scale(0.868 1)">=</text>
<text transform="translate(1224.6 205.3) scale(1 1.047)">0.<tspan class="one" font-size="47.43" dx="0.77">1</tspan></text>
</g>
<g class="lg">
<text class="sy" x="945.5" y="270.3">α</text>
<text class="eq" transform="translate(991.5 271.9) scale(0.868 1)">=</text>
<text transform="translate(1038.6 270.3) scale(1 1.047)">4.5<tspan dx="1.50">,</tspan></text>
<text class="sy" transform="translate(1139.2 270.3) scale(0.865 1)">τ</text>
<text class="eq" transform="translate(1176.4 271.9) scale(0.868 1)">=</text>
<text transform="translate(1224.6 270.3) scale(1 1.047)">0.02</text>
</g>
<g class="lg">
<text class="sy" x="945.5" y="335.3">α</text>
<text class="eq" transform="translate(991.5 336.9) scale(0.868 1)">=</text>
<text transform="translate(1038.6 335.3) scale(1 1.047)">6.4<tspan dx="1.50">,</tspan></text>
<text class="sy" transform="translate(1139.2 335.3) scale(0.865 1)">τ</text>
<text class="eq" transform="translate(1176.4 336.9) scale(0.868 1)">=</text>
<text transform="translate(1224.6 335.3) scale(1 1.047)">0.00<tspan class="one" font-size="47.43" dx="2.46">1</tspan></text>
</g>
</svg></body></html>
